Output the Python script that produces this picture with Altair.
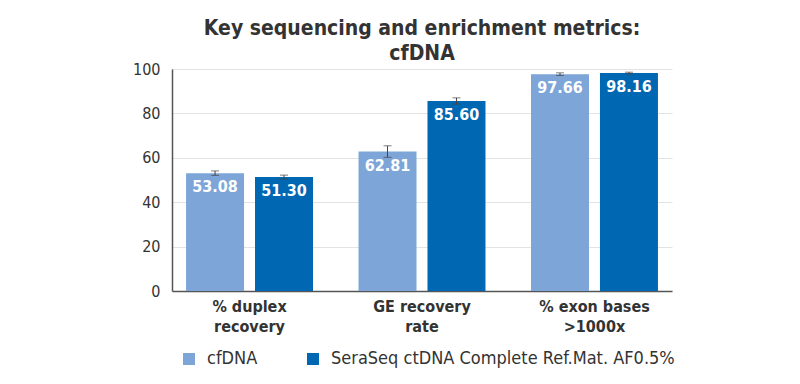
import altair as alt
import pandas as pd

categories = ["% duplex\nrecovery", "GE recovery\nrate", "% exon bases\n>1000x"]
series = ["cfDNA", "SeraSeq ctDNA Complete Ref.Mat. AF0.5%"]
values_cfdna = [53.08, 62.81, 97.66]
values_seraseq = [51.30, 85.60, 98.16]
err_cfdna = [1.0, 2.6, 0.6]
err_seraseq = [0.9, 1.4, 0.4]
y_ticks = [0, 20, 40, 60, 80, 100]
colors = ["#7DA5D8", "#0067B2"]

rows = []
for s, vals, errs in [(series[0], values_cfdna, err_cfdna), (series[1], values_seraseq, err_seraseq)]:
    for c, v, e in zip(categories, vals, errs):
        rows.append({"metric": c, "series": s, "value": v, "lo": v - e, "hi": v + e, "label": f"{v:.2f}"})
df = pd.DataFrame(rows)

FONT = "DejaVu Sans Condensed, sans-serif"

x_enc = alt.X(
    "metric:N", sort=categories, title=None,
    scale=alt.Scale(paddingInner=0.264, paddingOuter=0.0815),
    axis=alt.Axis(labelAngle=0, labelExpr="split(datum.label, '\\n')", labelFont=FONT,
                  labelFontSize=16, labelFontWeight="bold", labelColor="#333333",
                  labelLineHeight=20, labelPadding=7, ticks=False, domainColor="#555555",
                  domainWidth=1.5, grid=False),
)
xo_enc = alt.XOffset("series:N", sort=series, scale=alt.Scale(paddingInner=0.159, paddingOuter=0))

base = alt.Chart(df).encode(x=x_enc, xOffset=xo_enc)

bars = base.mark_bar().encode(
    y=alt.Y("value:Q", title=None, scale=alt.Scale(domain=[0, 100], nice=False),
            axis=alt.Axis(values=y_ticks, labelFont=FONT, labelFontSize=16, labelColor="#333333",
                          labelPadding=12, ticks=False, domainColor="#555555", domainWidth=1.5,
                          gridColor="#E3E3E3", gridWidth=1.2)),
    color=alt.Color("series:N", sort=series, scale=alt.Scale(domain=series, range=colors),
                    legend=alt.Legend(title=None, orient="none", legendX=8, legendY=281,
                                      direction="horizontal", symbolType="square", symbolSize=144,
                                      symbolStrokeWidth=0, labelFont=FONT, labelFontSize=18,
                                      labelColor="#333333", labelOffset=9, columnPadding=46,
                                      labelLimit=600, padding=0)),
)

rule = base.mark_rule(color="#444444", strokeWidth=1).encode(y="lo:Q", y2="hi:Q")
cap_lo = base.mark_tick(color="#444444", size=8, thickness=1).encode(y="lo:Q")
cap_hi = base.mark_tick(color="#444444", size=8, thickness=1).encode(y="hi:Q")

labels = base.mark_text(color="white", font=FONT, fontSize=16, fontWeight="bold",
                        baseline="alphabetic", dy=19).encode(y="value:Q", text="label:N")

chart = alt.layer(bars, rule, cap_lo, cap_hi, labels).properties(
    width=500, height=222,
    padding={"left": 164, "top": 61, "right": 120, "bottom": 85},
    autosize=alt.AutoSizeParams(type="none"),
    title=alt.Title(["Key sequencing and enrichment metrics:", "cfDNA"], font=FONT, fontSize=21,
                    fontWeight="bold", color="#333333", anchor="middle", offset=-3, lineHeight=25),
).configure_view(stroke=None)

chart.save("out.html", embed_options={"renderer": "svg", "actions": False})
